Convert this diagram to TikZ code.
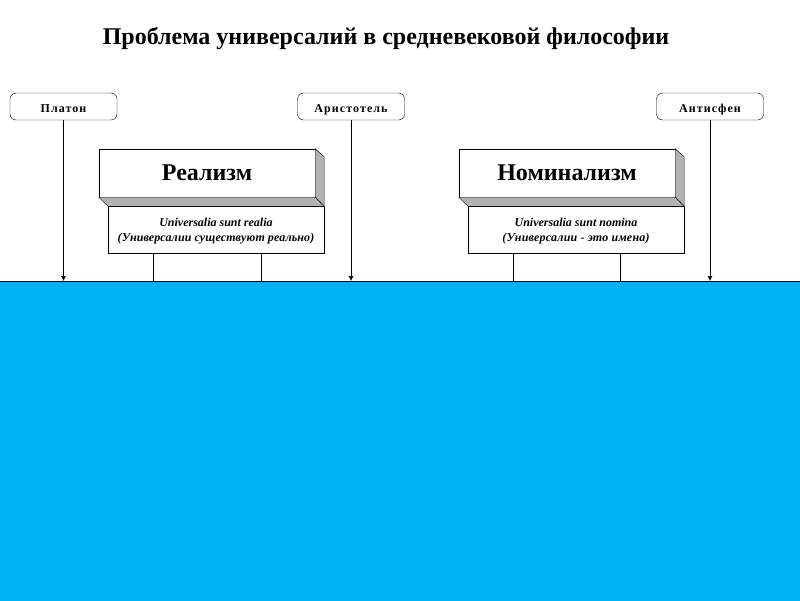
\documentclass[tikz,border=0pt]{standalone}
\usepackage{fontspec}
\setmainfont{Liberation Serif}
\usetikzlibrary{arrows.meta}
\begin{document}
\begin{tikzpicture}[x=1pt,y=-1pt,
  person/.style={draw, rounded corners=6pt, minimum width=107pt, minimum height=27pt, inner sep=0pt, text height=11pt, text depth=0pt, font=\fontsize{12}{14}\selectfont\bfseries\addfontfeature{LetterSpace=9}},
  sub/.style={draw, fill=white, minimum width=216pt, minimum height=47pt, inner sep=0pt, align=center, font=\fontsize{12}{15}\selectfont\bfseries\itshape},
  front/.style={draw, fill=white, minimum width=216pt, minimum height=48pt, inner sep=0pt, font=\fontsize{24}{26}\selectfont\bfseries},
  side/.style={draw, fill=black!30},
  link/.style={draw, line width=0.6pt},
  arr/.style={link, -{Latex[length=5pt,width=5pt]}}
]
\useasboundingbox (0,0) rectangle (800,600);
\fill[white] (0,0) rectangle (800,600);
\node[fill={rgb,255:red,0;green,178;blue,245}, minimum width=800pt, minimum height=320pt, inner sep=0pt, anchor=north west] (base) at (0,281) {};
\draw[line width=0.9pt] (base.north west) -- (base.north east);
\node[font=\fontsize{24}{26}\selectfont\bfseries] (title) at (386,38.5) {Проблема универсалий в средневековой философии};

\node[person] (platon) at (63.5,106.5) {Платон};
\node[person] (arist) at (351,106.5) {Аристотель};
\node[person] (antis) at (710,106.5) {Антисфен};

% Realism
\node[sub] (rsub) at (216,229.5) {};
\node[font=\fontsize{12}{15}\selectfont\bfseries\itshape, align=center] (rtxt) at (216,231) {Universalia sunt realia\\{\addfontfeature{LetterSpace=1}(Универсалии существуют реально)}};
\node[front] (real) at (207,173) {Реализм};
\draw[side] (real.north east) -- ++(9,8) -- ++(0,49) -- (real.south east) -- cycle;
\draw[side] (real.south west) -- ++(9,9) -- ++(216,0) -- (real.south east) -- cycle;

% Nominalism
\node[sub] (nsub) at (576,229.5) {};
\node[font=\fontsize{12}{15}\selectfont\bfseries\itshape, align=center] (ntxt) at (576,231) {Universalia sunt nomina\\{\addfontfeature{LetterSpace=2}(Универсалии - это имена)}};
\node[front] (nom) at (567,173) {Номинализм};
\draw[side] (nom.north east) -- ++(9,8) -- ++(0,49) -- (nom.south east) -- cycle;
\draw[side] (nom.south west) -- ++(9,9) -- ++(216,0) -- (nom.south east) -- cycle;

\draw[arr] (platon.south) -- (platon.south |- base.north);
\draw[arr] (arist.south) -- (arist.south |- base.north);
\draw[arr] (antis.south) -- (antis.south |- base.north);

\draw[link] ([xshift=-63pt]rsub.south) -- ([xshift=-63pt]rsub.south |- base.north);
\draw[link] ([xshift=45pt]rsub.south) -- ([xshift=45pt]rsub.south |- base.north);
\draw[link] ([xshift=-63pt]nsub.south) -- ([xshift=-63pt]nsub.south |- base.north);
\draw[link] ([xshift=44pt]nsub.south) -- ([xshift=44pt]nsub.south |- base.north);
\end{tikzpicture}
\end{document}
